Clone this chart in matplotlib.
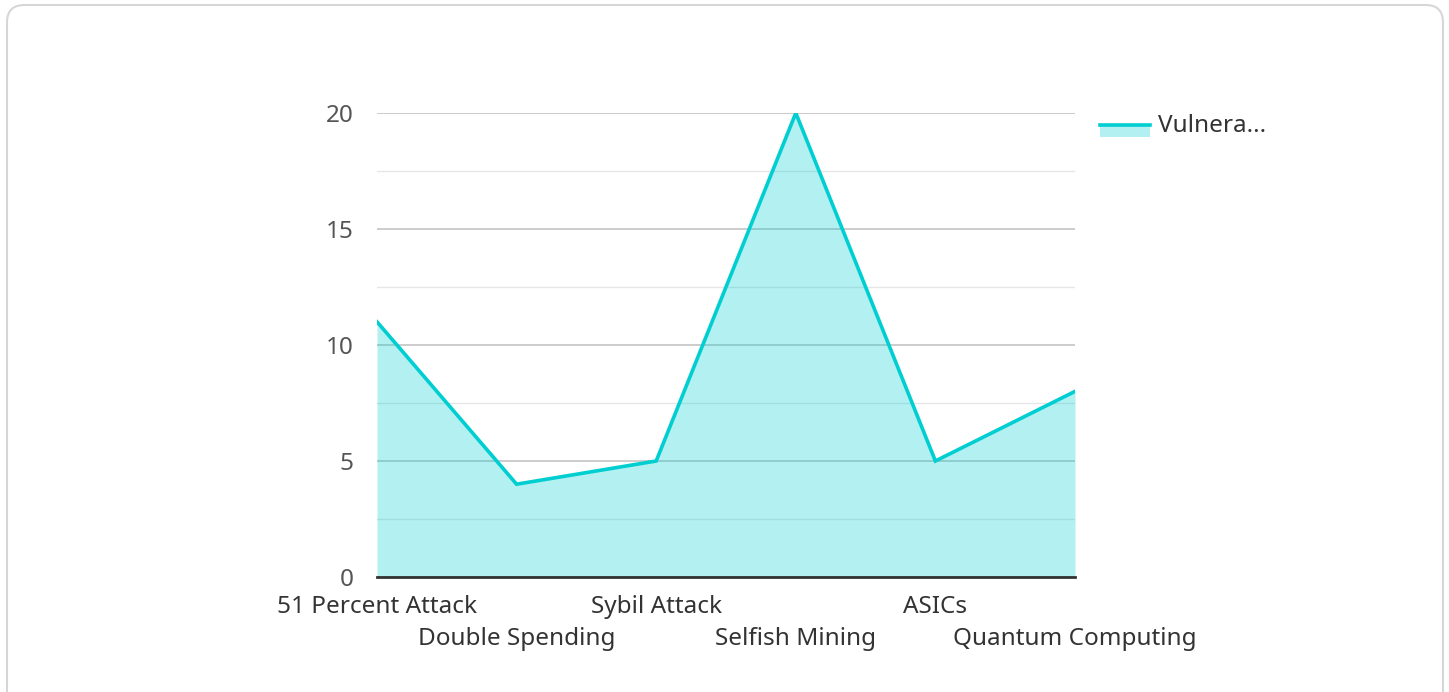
import matplotlib
matplotlib.use("Agg")
import matplotlib.pyplot as plt
import matplotlib.patches as mpatches
from matplotlib.lines import Line2D
import numpy as np

CATEGORIES = ["51 Percent Attack", "Double Spending", "Sybil Attack",
              "Selfish Mining", "ASICs", "Quantum Computing"]
VALUES = [11, 4, 5, 20, 5, 8]
SERIES_LABEL = "Vulnera..."
Y_TICKS = [0, 5, 10, 15, 20]

LINE_COLOR = "#00CED1"
FILL_COLOR = "#00CED1"
W, H = 1449, 692
FS = 17.5

plt.rcParams["font.family"] = ["Noto Sans", "DejaVu Sans"]

fig = plt.figure(figsize=(W / 100, H / 100), dpi=100)


def fx(px):
    return px / W


def fy(py):
    return 1 - py / H


# rounded card border
fig.patches.append(mpatches.FancyBboxPatch(
    (fx(7), fy(720)), fx(1436), fy(5) - fy(720),
    boxstyle="round,pad=0,rounding_size=0.012",
    transform=fig.transFigure, facecolor="none", edgecolor="#d6d6d6",
    linewidth=1.5, mutation_aspect=W / H, zorder=-1))

ax = fig.add_axes([fx(377), fy(577), fx(1075) - fx(377), fy(113) - fy(577)])
ax.set_facecolor("none")

x = np.arange(len(CATEGORIES))
ax.fill_between(x, 0, VALUES, color=FILL_COLOR, alpha=0.3, linewidth=0, zorder=2)
ax.plot(x, VALUES, color=LINE_COLOR, linewidth=2.6, zorder=3,
        solid_joinstyle="miter")

ax.set_xlim(0, len(CATEGORIES) - 1)
ax.set_ylim(0, 20)
ax.set_yticks(Y_TICKS)
ax.set_yticks(np.arange(2.5, 20, 5), minor=True)
ax.grid(which="major", axis="y", color="#c4c4c4", linewidth=1.2, zorder=1)
ax.grid(which="minor", axis="y", color="#e6e6e6", linewidth=1.0, zorder=1)
ax.set_axisbelow(True)

# staggered category labels: even ones as major ticks, odd ones as minor ticks
ax.set_xticks(x[::2], CATEGORIES[::2])
ax.set_xticks(x[1::2], CATEGORIES[1::2], minor=True)
ax.tick_params(axis="both", which="both", length=0, labelsize=FS, colors="#333333")
ax.tick_params(axis="y", labelcolor="#555555", pad=17)
ax.tick_params(axis="x", which="major", pad=13)
ax.tick_params(axis="x", which="minor", pad=36)

for name, spine in ax.spines.items():
    spine.set_visible(name == "bottom")
ax.spines["bottom"].set_color("#333333")
ax.spines["bottom"].set_linewidth(2)
ax.spines["bottom"].set_zorder(4)

# legend
fig.patches.append(mpatches.Rectangle(
    (fx(1100), fy(137)), fx(50), fy(124) - fy(137), transform=fig.transFigure,
    facecolor=FILL_COLOR, alpha=0.3, linewidth=0))
fig.lines.append(Line2D([fx(1100), fx(1150)], [fy(125), fy(125)],
                        transform=fig.transFigure, color=LINE_COLOR, linewidth=2.6))
fig.text(fx(1158), fy(126), SERIES_LABEL, fontsize=FS, color="#333333",
         va="center", ha="left")

fig.savefig("out.png", dpi=100)
